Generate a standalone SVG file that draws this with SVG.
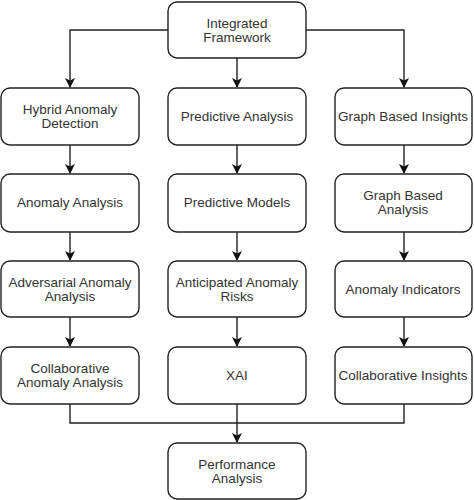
<svg xmlns="http://www.w3.org/2000/svg" width="474" height="500" viewBox="0 0 474 500">
<defs>
<marker id="ah" markerWidth="10" markerHeight="10" refX="9" refY="5" orient="auto" markerUnits="userSpaceOnUse">
<path d="M0,0 L10,5 L0,10 L2.5,5 Z" fill="#111"/>
</marker>
</defs>
<style>
.b{fill:#fff;stroke:#222;stroke-width:1.4}
.t{font-family:"Liberation Sans",Arial,sans-serif;font-size:13.5px;fill:#333;text-anchor:middle;dominant-baseline:central}
.c{fill:none;stroke:#222;stroke-width:1.4}
</style>
<rect width="474" height="500" fill="#fff"/>
<g id="connectors">
<path class="c" d="M168,30 H70 V87" marker-end="url(#ah)"/>
<path class="c" d="M237,58 V87" marker-end="url(#ah)"/>
<path class="c" d="M306,30 H404 V87" marker-end="url(#ah)"/>
<path class="c" d="M70,145 V173" marker-end="url(#ah)"/>
<path class="c" d="M237,145 V173" marker-end="url(#ah)"/>
<path class="c" d="M404,145 V173" marker-end="url(#ah)"/>
<path class="c" d="M70,232 V260" marker-end="url(#ah)"/>
<path class="c" d="M237,232 V260" marker-end="url(#ah)"/>
<path class="c" d="M404,232 V260" marker-end="url(#ah)"/>
<path class="c" d="M70,317 V346" marker-end="url(#ah)"/>
<path class="c" d="M237,317 V346" marker-end="url(#ah)"/>
<path class="c" d="M404,317 V346" marker-end="url(#ah)"/>
<path class="c" d="M70,404 V423 H404 V404"/>
<path class="c" d="M237,404 V442" marker-end="url(#ah)"/>
</g>
<g id="n0"><rect class="b" x="168" y="2" width="138" height="56" rx="9"/><text class="t" x="237" y="23">Integrated</text><text class="t" x="237" y="37">Framework</text></g>
<g id="n1"><rect class="b" x="1" y="88" width="138" height="57" rx="9"/><text class="t" x="70" y="109">Hybrid Anomaly</text><text class="t" x="70" y="123">Detection</text></g>
<g id="n2"><rect class="b" x="168" y="88" width="138" height="57" rx="9"/><text class="t" x="237" y="116">Predictive Analysis</text></g>
<g id="n3"><rect class="b" x="335" y="88" width="137" height="57" rx="9"/><text class="t" x="403" y="116">Graph Based Insights</text></g>
<g id="n4"><rect class="b" x="1" y="174" width="138" height="58" rx="9"/><text class="t" x="70" y="202">Anomaly Analysis</text></g>
<g id="n5"><rect class="b" x="168" y="174" width="138" height="58" rx="9"/><text class="t" x="237" y="202">Predictive Models</text></g>
<g id="n6"><rect class="b" x="335" y="174" width="137" height="58" rx="9"/><text class="t" x="403" y="195">Graph Based</text><text class="t" x="403" y="209">Analysis</text></g>
<g id="n7"><rect class="b" x="1" y="261" width="138" height="56" rx="9"/><text class="t" x="70" y="282">Adversarial Anomaly</text><text class="t" x="70" y="296">Analysis</text></g>
<g id="n8"><rect class="b" x="168" y="261" width="138" height="56" rx="9"/><text class="t" x="237" y="282">Anticipated Anomaly</text><text class="t" x="237" y="296">Risks</text></g>
<g id="n9"><rect class="b" x="335" y="261" width="137" height="56" rx="9"/><text class="t" x="403" y="289">Anomaly Indicators</text></g>
<g id="n10"><rect class="b" x="1" y="347" width="138" height="57" rx="9"/><text class="t" x="70" y="368">Collaborative</text><text class="t" x="70" y="382">Anomaly Analysis</text></g>
<g id="n11"><rect class="b" x="168" y="347" width="138" height="57" rx="9"/><text class="t" x="237" y="375">XAI</text></g>
<g id="n12"><rect class="b" x="335" y="347" width="137" height="57" rx="9"/><text class="t" x="403" y="375">Collaborative Insights</text></g>
<g id="n13"><rect class="b" x="168" y="443" width="138" height="56" rx="9"/><text class="t" x="237" y="464">Performance</text><text class="t" x="237" y="478">Analysis</text></g>
</svg>
